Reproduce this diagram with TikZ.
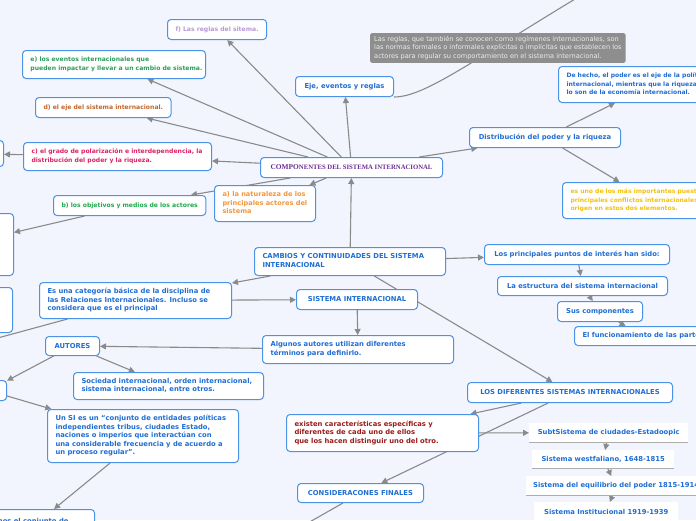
\documentclass[tikz,border=0pt]{standalone}
\usepackage{fontspec}
\setsansfont{DejaVu Sans}
\newfontfamily\compfont{Liberation Serif}
\usepackage{xcolor}
\usetikzlibrary{arrows.meta, positioning}
\definecolor{bgpaper}{HTML}{F2F5FD}
\definecolor{boxline}{HTML}{4A93E6}
\definecolor{maptext}{HTML}{1F6ED4}
\definecolor{linkgrey}{HTML}{8A8A8A}
\definecolor{notegrey}{HTML}{8E8E8E}
\definecolor{compurple}{HTML}{6B2D91}
\definecolor{fpurple}{HTML}{B89AD8}
\definecolor{egreen}{HTML}{2E9E5B}
\definecolor{dbrown}{HTML}{C4652B}
\definecolor{cpink}{HTML}{DD2266}
\definecolor{bgreen}{HTML}{1EAA4E}
\definecolor{aorange}{HTML}{F2963F}
\definecolor{ryellow}{HTML}{F4C20D}
\definecolor{dred}{HTML}{9B1B1B}
\pgfdeclarelayer{paper}
\pgfdeclarelayer{links}
\pgfsetlayers{paper,links,main}
% lines set flush left in a block of fixed width
\newcommand\tlines[2]{\makebox[#1][l]{\begin{tabular}{@{}l@{}}#2\end{tabular}}}

\begin{document}
\begin{tikzpicture}[x=1pt,y=-1pt,
  topic/.style={draw=boxline,fill=white,line width=1pt,rounded corners=3.5pt,anchor=north west,align=left,
    inner xsep=8pt,inner ysep=2pt,text=maptext,font=\sffamily\bfseries\fontsize{6.8}{8.4}\selectfont},
  small/.style={font=\sffamily\bfseries\fontsize{6.1}{9}\selectfont},
  mid/.style={font=\sffamily\bfseries\fontsize{6.6}{8.6}\selectfont},
  narrow/.style={font=\sffamily\bfseries\fontsize{6.05}{8.5}\selectfont},
  sz/.style 2 args={minimum width=#1,minimum height=#2},
  item/.style={fill=white,anchor=north west,inner xsep=7pt,inner ysep=2pt,minimum height=19pt,text=maptext,
    font=\sffamily\bfseries\fontsize{6.8}{8.4}\selectfont,
    append after command={(\tikzlastnode.south west) edge[draw=linkgrey!70,line width=0.8pt] (\tikzlastnode.south east)}},
  note/.style={fill=notegrey,rounded corners=1.5pt,anchor=north west,align=left,text=white!93!black,
    inner xsep=4pt,inner ysep=3pt,font=\sffamily\fontsize{6.6}{8.5}\selectfont},
  link/.style={draw=linkgrey,line width=1.1pt},
  arr/.style={link,-{Triangle[length=6pt,width=6pt]}}]
\useasboundingbox (0,0) rectangle (696,520);
\begin{pgfonlayer}{paper}
\fill[bgpaper] (0,0) rectangle (696,520);
\end{pgfonlayer}
\clip (0,0) rectangle (696,520);

% componentes
\node[topic,sz={182pt}{20pt},align=center,font=\compfont\bfseries,text=compurple] (comp) at (260,157)
  {{\fontsize{7.4}{8}\selectfont COMPO}{\fontsize{6.7}{8}\selectfont NENTES DEL SISTEMA INTERNACIONAL}};
\node[topic,small,sz={98pt}{20pt},text=fpurple] (f) at (167,19) {f) Las reglas del sitema.};
\node[topic,small,minimum height=28pt,text=egreen] (e) at (22,50) {\tlines{167pt}{e) los eventos internacionales que\\pueden impactar y llevar a un cambio de sistema.}};
\node[topic,small,sz={133pt}{20pt},text=dbrown] (d) at (35,97) {d) el eje del sistema internacional.};
\node[topic,small,minimum height=28pt,text=cpink] (c) at (23,142) {\tlines{172pt}{c) el grado de polarización e interdependencia, la\\distribución del poder y la riqueza.}};
\node[topic,small,sz={149pt}{20pt},text=bgreen] (b) at (53,195) {b) los objetivos y medios de los actores};
\node[topic,mid,minimum height=36pt,text=aorange] (a) at (214,185) {\tlines{85pt}{a) la naturaleza de los\\principales actores del\\sistema}};
\node[topic,sz={98pt}{20pt}] (eje) at (295,76) {Eje, eventos y reglas};
\node[note] (rules) at (370,33) {Las reglas, que también se conocen como regímenes internacionales, son\\las normas formales o informales explícitas o implícitas que establecen los\\actores para regular su comportamiento en el sistema internacional.};
\node[topic,sz={151pt}{20pt}] (dist) at (469,127) {Distribución del poder y la riqueza};
\node[topic,narrow,minimum height=36pt] (hecho) at (558,66) {\tlines{172pt}{De hecho, el poder es el eje de la política\\internacional, mientras que la riqueza\\lo son de la economía internacional.}};
\node[topic,narrow,minimum height=36pt,text=ryellow] (riq) at (562,182) {\tlines{160pt}{es uno de los más importantes puesto\\principales conflictos internacionales\\origen en estos dos elementos.}};

% cortados a la izquierda
\node[topic,sz={83pt}{26pt}] (l1) at (-80,140) {};
\node[topic,sz={103pt}{62pt}] (l2) at (-90,213) {};
\node[topic,sz={102pt}{45pt}] (l3) at (-90,287) {};
\node[topic,sz={36pt}{20pt}] (l4) at (-30,380) {};
\node[topic,anchor=north east,minimum height=24pt] (l5) at (95,509) {amos el conjunto de\rule{18pt}{0pt}};

% cambios y continuidades
\node[topic,minimum height=28pt] (cambios) at (254,247) {\tlines{175pt}{CAMBIOS Y CONTINUIDADES DEL SISTEMA\\INTERNACIONAL}};
\node[topic,sz={185pt}{20pt}] (princ) at (484,244) {Los principales puntos de interés han sido:};
\node[topic,sz={170pt}{19pt}] (estr) at (497,276) {La estructura del sistema internacional};
\node[topic,sz={85pt}{20pt}] (sus) at (557,301) {Sus componentes};
\node[topic,minimum height=19pt] (func) at (574,326) {El funcionamiento de las partes};
\node[topic,minimum height=36pt] (cat) at (39,282) {\tlines{176pt}{Es una categoría básica de la disciplina de\\las Relaciones Internacionales. Incluso se\\considera que es el principal}};
\node[topic,sz={121pt}{20pt}] (sist) at (296,289) {SISTEMA INTERNACIONAL};
\node[topic,minimum height=28pt] (alg) at (262,335) {\tlines{175pt}{Algunos autores utilizan diferentes\\términos para definirlo.}};
\node[topic,sz={54pt}{19pt}] (aut) at (45,336) {AUTORES};
\node[topic,minimum height=27pt] (soc) at (73,372) {\tlines{174pt}{Sociedad internacional, orden internacional,\\sistema internacional, entre otros.}};
\node[topic,minimum height=53pt] (si) at (47,409) {\tlines{175pt}{Un SI es un “conjunto de entidades políticas\\independientes tribus, ciudades Estado,\\naciones o imperios que interactúan con\\una considerable frecuencia y de acuerdo a\\un proceso regular”.}};
\node[topic,sz={205pt}{20pt}] (dif) at (467,382) {LOS DIFERENTES SISTEMAS INTERNACIONALES};
\node[topic,minimum height=37pt,text=dred] (exi) at (286,414) {\tlines{176pt}{existen características específicas y\\diferentes de cada uno de ellos\\que los hacen distinguir uno del otro.}};
\node[topic,sz={126pt}{19pt}] (cons) at (297,483) {CONSIDERACONES FINALES};
\node[item,minimum width=159pt] (s1) at (529,423) {SubtSistema de ciudades-Estadoopic};
\node[item,minimum width=142pt,minimum height=18pt] (s2) at (532,450) {Sistema westfaliano, 1648-1815};
\node[item] (s3) at (526,476) {Sistema del equilibrio del poder 1815-1914};
\node[item,minimum width=144pt] (s4) at (534,502) {Sistema Institucional 1919-1939};

\coordinate (ejeup) at (590,-10);
\coordinate (catout) at (-120,370);
\coordinate (consout) at (250,556);
\coordinate (l5in) at (-40,450);

\begin{pgfonlayer}{links}
\clip (0,0) rectangle (696,520);
\draw[arr] (comp) -- (f);
\draw[arr] (comp) -- (e);
\draw[arr] (comp) -- (d);
\draw[arr] (comp) -- (c);
\draw[arr] (comp) -- (b);
\draw[arr] (comp) -- (a);
\draw[arr] (comp) -- (eje);
\draw[arr] (comp) -- (dist);
\draw[link] (eje.south east) .. controls (425,97) and (470,62) .. (ejeup);
\draw[arr] (dist) -- (hecho);
\draw[arr] (dist) -- (riq);
\draw[arr] (c) -- (l1);
\draw[arr] (b) -- (l2);
\draw[arr] (cambios) -- (comp);
\draw[arr] (cambios) -- (princ);
\draw[arr] (cambios) -- (cat);
\draw[arr] (cambios) -- (dif);
\draw[arr] (princ) -- (estr);
\draw[arr] (estr) -- (sus);
\draw[arr] (sus) -- (func);
\draw[arr] (cat) -- (sist);
\draw[link] (cat) -- (catout);
\draw[arr] (sist) -- (alg);
\draw[arr] (alg) -- (aut);
\draw[arr] (aut) -- (soc);
\draw[arr] (aut) -- (l4);
\draw[arr] (l4) -- (si);
\draw[arr] (si) -- (l5);
\draw[arr] (l5in) -- (l5.163);
\draw[arr] (dif) -- (exi);
\draw[arr] (dif) -- (cons);
\draw[arr] (exi) -- (s1);
\draw[link] (cons) -- (consout);
\draw[arr] (s1) -- (s2);
\draw[arr] (s2) -- (s3);
\draw[arr] (s3) -- (s4);
\end{pgfonlayer}
\end{tikzpicture}
\end{document}
